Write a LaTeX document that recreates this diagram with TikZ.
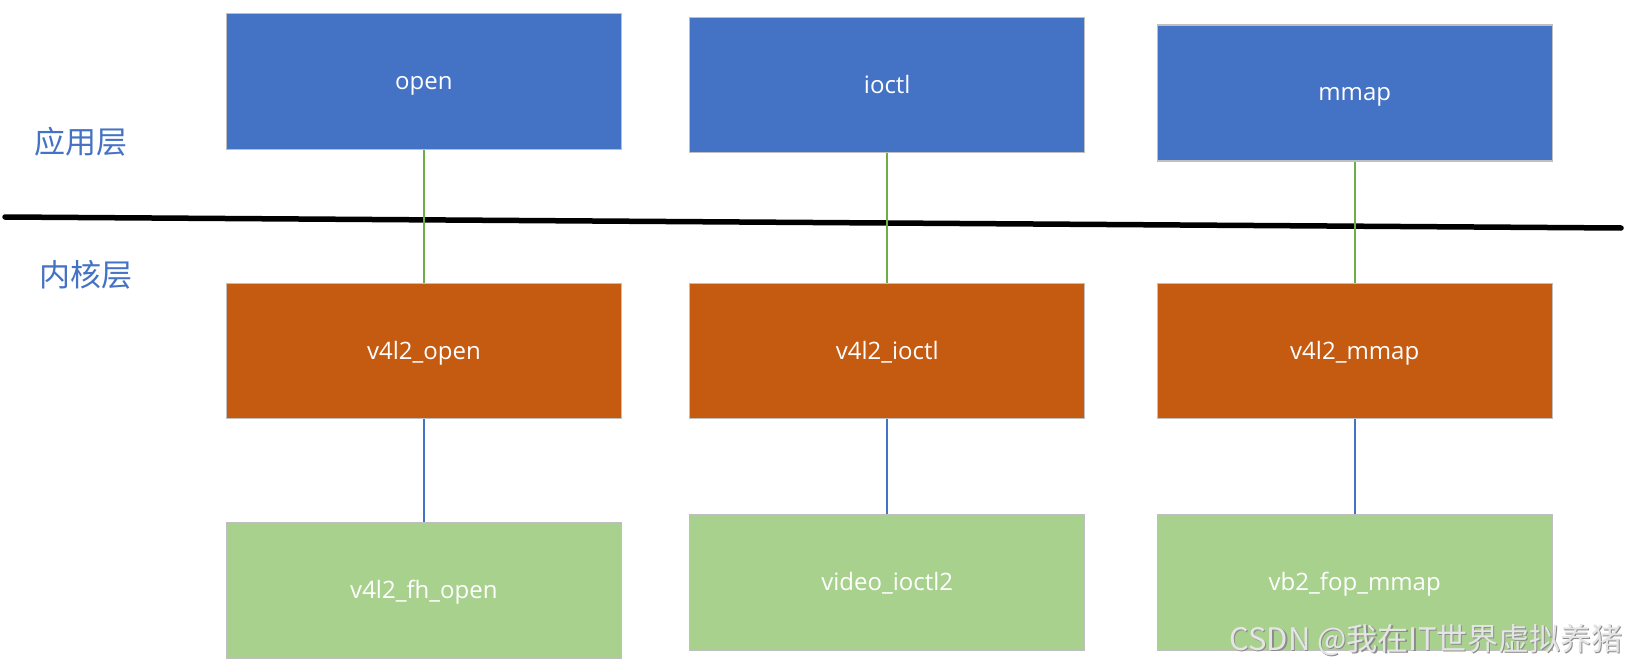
\documentclass[tikz,border=0pt]{standalone}
\usepackage{fontspec}
\setmainfont{Open Sans}
\newfontfamily\cjk{Noto Sans CJK SC}
\definecolor{appblue}{HTML}{4472C4}
\definecolor{kerorange}{HTML}{C55A11}
\definecolor{kergreen}{HTML}{A9D18E}
\definecolor{linkgreen}{HTML}{70AD47}
\definecolor{boxedge}{HTML}{BFBFBF}
\begin{document}
\begin{tikzpicture}[x=1pt,y=-1pt,
  fbox/.style={draw=boxedge,line width=1.2pt,minimum width=395pt,inner sep=0pt,
    text height=20pt,text depth=4pt,
    text=white,font=\fontsize{24}{29}\selectfont},
  appbox/.style={fbox,fill=appblue},
  kbox/.style={fbox,fill=kerorange},
  gbox/.style={fbox,fill=kergreen},
  glink/.style={linkgreen,line width=2pt},
  blink/.style={appblue,line width=2.2pt},
  layer/.style={text=appblue,font=\cjk\fontsize{31}{36}\selectfont,inner sep=0pt},
  wmark/.style={font=\cjk\fontsize{31}{36}\selectfont,anchor=east,inner sep=0pt}]
\useasboundingbox (0,0) rectangle (1629,666);
\fill[white] (0,0) rectangle (1629,666);
% divider
\coordinate (dl) at (5,217);
\coordinate (dr) at (1621,228);
\draw[black,line width=5.5pt,line cap=round] (dl) -- (dr);
% boxes
\node[appbox,minimum height=136pt] (open) at (423.9,81.5) {open};
\node[appbox,minimum height=135pt] (ioctl) at (887.2,85.2) {ioctl};
\node[appbox,minimum height=136pt] (mmap) at (1354.7,93) {mmap};
\node[kbox,minimum height=135pt] (kopen) at (423.9,351.2) {v4l2\_open};
\node[kbox,minimum height=135pt] (kioctl) at (887.2,351.2) {v4l2\_ioctl};
\node[kbox,minimum height=135pt] (kmmap) at (1354.7,351.2) {v4l2\_mmap};
\node[gbox,minimum height=136pt] (fhopen) at (423.9,590.6) {v4l2\_fh\_open};
\node[gbox,minimum height=136pt] (vioctl) at (887.2,582.4) {video\_ioctl2};
\node[gbox,minimum height=136pt] (vbmmap) at (1354.7,582.4) {vb2\_fop\_mmap};
% connectors
\draw[glink] (open.south) -- (kopen.north);
\draw[glink] (ioctl.south) -- (kioctl.north);
\draw[glink] (mmap.south) -- (kmmap.north);
\draw[blink] (kopen.south) -- (fhopen.north);
\draw[blink] (kioctl.south) -- (vioctl.north);
\draw[blink] (kmmap.south) -- (vbmmap.north);
% layer labels
\node[layer] (app) at (81,142) {应用层};
\node[layer] (ker) at (86,275) {内核层};
% watermark
\node[wmark,text=black!45] (wms) at (1624,641) {CSDN @我在IT世界虚拟养猪};
\node[wmark,text=black!10] (wm) at (1622.8,639.8) {CSDN @我在IT世界虚拟养猪};
\end{tikzpicture}
\end{document}
